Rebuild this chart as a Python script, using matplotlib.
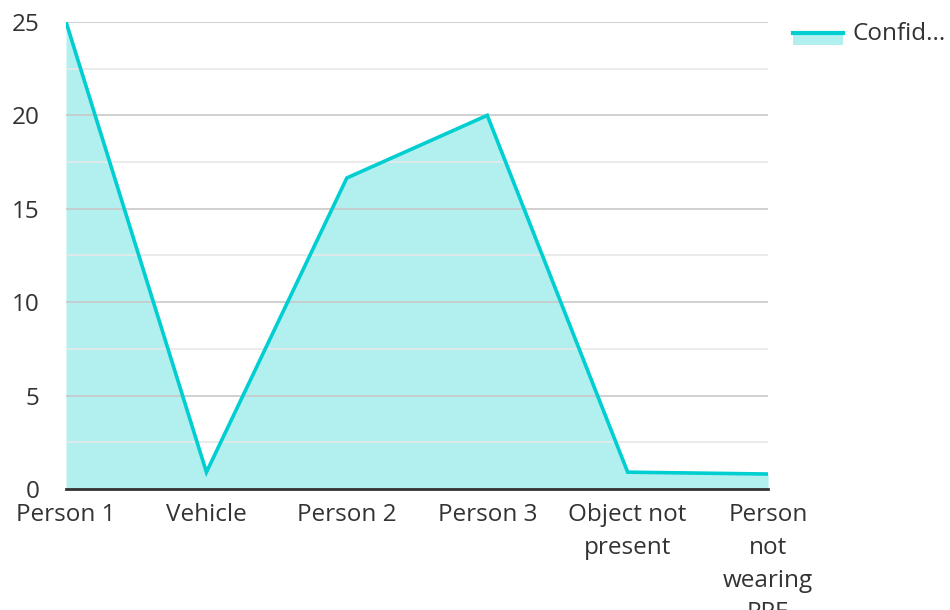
import matplotlib.pyplot as plt
from matplotlib.lines import Line2D
from matplotlib.patches import Rectangle
from matplotlib.ticker import MultipleLocator

plt.rcParams['font.family'] = ['Open Sans', 'DejaVu Sans']

categories = ["Person 1", "Vehicle", "Person 2", "Person 3",
              "Object not\npresent", "Person\nnot\nwearing\nPPE"]
confidence = [25, 0.9, 16.65, 20.0, 0.9, 0.8]
series_name = "Confid..."

line_color = "#00CED1"
fill_color = "#B2EFEF"
text_color = "#333333"
fs = 17.5

fig = plt.figure(figsize=(9.5, 6.1), dpi=100)
ax = fig.add_axes([0.0695, 0.1984, 0.739, 0.7656])

x = list(range(len(categories)))
ax.fill_between(x, confidence, 0, color=fill_color, lw=0, zorder=1)
ax.plot(x, confidence, color=line_color, lw=2.6, zorder=3, solid_joinstyle="miter")

ax.set_xlim(0, len(categories) - 1)
ax.set_ylim(0, 25)
ax.yaxis.set_major_locator(MultipleLocator(5))
ax.yaxis.set_minor_locator(MultipleLocator(2.5))
ax.grid(which="major", axis="y", color="#C8C8C8", lw=1.2, zorder=2)
ax.grid(which="minor", axis="y", color="#E8E8E8", lw=1.2, zorder=2)
ax.set_axisbelow(False)

for s in ["top", "right", "left"]:
    ax.spines[s].set_visible(False)
ax.spines["bottom"].set_color(text_color)
ax.spines["bottom"].set_linewidth(2)
ax.spines["bottom"].set_zorder(4)

ax.set_xticks(x)
ax.set_xticklabels(categories, linespacing=1.49)
ax.tick_params(axis="both", which="both", length=0, labelsize=fs,
               colors=text_color)
ax.tick_params(axis="x", pad=10)
ax.tick_params(axis="y", pad=19)

# legend
fig.add_artist(Rectangle((793 / 950, 1 - 45 / 610), 50 / 950, 12 / 610,
                         transform=fig.transFigure, color=fill_color, lw=0))
fig.add_artist(Line2D([793 / 950, 843 / 950], [1 - 33 / 610, 1 - 33 / 610],
                      transform=fig.transFigure, color=line_color, lw=3))
fig.text(852 / 950, 1 - 34 / 610, series_name, fontsize=fs,
         color=text_color, va="center", ha="left")

fig.savefig("out.png", dpi=100)
